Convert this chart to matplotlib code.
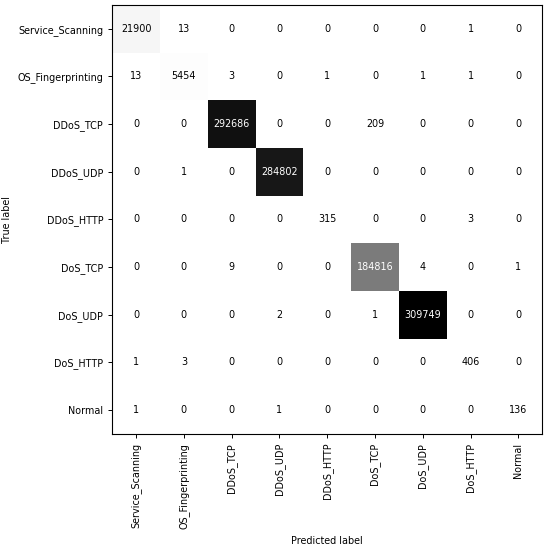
import numpy as np
import matplotlib
matplotlib.use('Agg')
import matplotlib.pyplot as plt

# class names (same order for true and predicted)
labels = ['Service_Scanning', 'OS_Fingerprinting', 'DDoS_TCP', 'DDoS_UDP',
          'DDoS_HTTP', 'DoS_TCP', 'DoS_UDP', 'DoS_HTTP', 'Normal']

row_service_scanning = [21900, 13, 0, 0, 0, 0, 0, 1, 0]
row_os_fingerprinting = [13, 5454, 3, 0, 1, 0, 1, 1, 0]
row_ddos_tcp = [0, 0, 292686, 0, 0, 209, 0, 0, 0]
row_ddos_udp = [0, 1, 0, 284802, 0, 0, 0, 0, 0]
row_ddos_http = [0, 0, 0, 0, 315, 0, 0, 3, 0]
row_dos_tcp = [0, 0, 9, 0, 0, 184816, 4, 0, 1]
row_dos_udp = [0, 0, 0, 2, 0, 1, 309749, 0, 0]
row_dos_http = [1, 3, 0, 0, 0, 0, 0, 406, 0]
row_normal = [1, 0, 0, 1, 0, 0, 0, 0, 136]

cm = np.array([row_service_scanning, row_os_fingerprinting, row_ddos_tcp,
               row_ddos_udp, row_ddos_http, row_dos_tcp, row_dos_udp,
               row_dos_http, row_normal])

FS = 6.9

fig = plt.figure(figsize=(5.5, 5.47), dpi=100)
ax = fig.add_axes([0.204, 0.207, 0.782, 0.784])
ax.imshow(cm, cmap='Greys', interpolation='nearest', aspect='auto')

thresh = (cm.max() + cm.min()) / 2.0
for i in range(cm.shape[0]):
    for j in range(cm.shape[1]):
        color = 'white' if cm[i, j] > thresh else 'black'
        ax.text(j, i, str(cm[i, j]), ha='center', va='center',
                color=color, fontsize=FS)

ax.set_xticks(np.arange(len(labels)))
ax.set_yticks(np.arange(len(labels)))
ax.set_xticklabels(labels, rotation=90, fontsize=FS)
ax.set_yticklabels(labels, fontsize=FS)
ax.tick_params(length=3, width=0.7)
ax.set_xlabel('Predicted label', fontsize=FS, labelpad=5)
ax.set_ylabel('True label', fontsize=FS)

fig.savefig('out.png', dpi=100)
